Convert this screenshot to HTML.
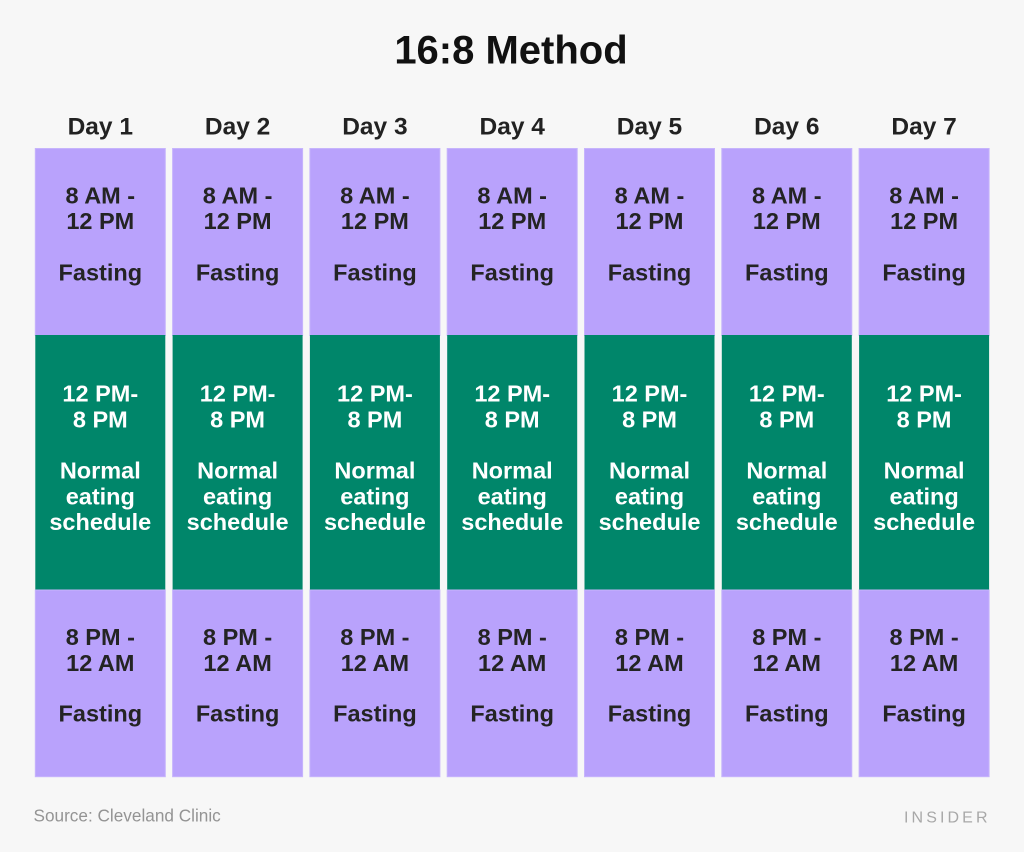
<!DOCTYPE html>
<html>
<head>
<meta charset="utf-8">
<style>
  html, body { margin: 0; padding: 0; background: #f7f7f7; }
  body { width: 1024px; height: 852px; overflow: hidden; }
  svg { display: block; }
  text { font-family: "Liberation Sans", Arial, sans-serif; }
  .title { font-size: 40px; font-weight: bold; fill: #111; }
  .day { font-size: 24.5px; font-weight: bold; fill: #222; }
  .dk { font-size: 23.5px; font-weight: bold; fill: #242424; }
  .wt { font-size: 23.5px; font-weight: bold; fill: #ffffff; }
  .src { font-size: 17.2px; fill: #949494; }
  .ins { font-size: 16px; fill: #a8a8a8; letter-spacing: 3.1px; }
</style>
</head>
<body>
<svg width="1024" height="852" viewBox="0 0 1024 852" xmlns="http://www.w3.org/2000/svg">
  <rect width="1024" height="852" fill="#f7f7f7"/>
  <text class="title" x="511" y="63.3" text-anchor="middle">16:8 Method</text>

  <g id="cols">
    <g transform="translate(35.3,0)">
      <text class="day" x="65" y="134.5" text-anchor="middle">Day 1</text>
      <rect x="0" y="148.5" width="130" height="187" fill="#b9a2fc" stroke="#c6b4fc" stroke-width="1"/>
      <rect x="0" y="335" width="130" height="255" fill="#00866a"/>
      <rect x="0" y="590" width="130" height="186.7" fill="#b9a2fc" stroke="#c6b4fc" stroke-width="1"/>
      <text class="dk" text-anchor="middle"><tspan x="65" y="203.3">8 AM -</tspan><tspan x="65" y="229.2">12 PM</tspan><tspan x="65" y="280.3">Fasting</tspan></text>
      <text class="wt" text-anchor="middle"><tspan x="65" y="401.7">12 PM-</tspan><tspan x="65" y="427.5">8 PM</tspan><tspan x="65" y="478.6">Normal</tspan><tspan x="65" y="504.3">eating</tspan><tspan x="65" y="530">schedule</tspan></text>
      <text class="dk" text-anchor="middle"><tspan x="65" y="645">8 PM -</tspan><tspan x="65" y="671">12 AM</tspan><tspan x="65" y="721.7">Fasting</tspan></text>
    </g>
    <g transform="translate(172.6,0)">
      <text class="day" x="65" y="134.5" text-anchor="middle">Day 2</text>
      <rect x="0" y="148.5" width="130" height="187" fill="#b9a2fc" stroke="#c6b4fc" stroke-width="1"/>
      <rect x="0" y="335" width="130" height="255" fill="#00866a"/>
      <rect x="0" y="590" width="130" height="186.7" fill="#b9a2fc" stroke="#c6b4fc" stroke-width="1"/>
      <text class="dk" text-anchor="middle"><tspan x="65" y="203.3">8 AM -</tspan><tspan x="65" y="229.2">12 PM</tspan><tspan x="65" y="280.3">Fasting</tspan></text>
      <text class="wt" text-anchor="middle"><tspan x="65" y="401.7">12 PM-</tspan><tspan x="65" y="427.5">8 PM</tspan><tspan x="65" y="478.6">Normal</tspan><tspan x="65" y="504.3">eating</tspan><tspan x="65" y="530">schedule</tspan></text>
      <text class="dk" text-anchor="middle"><tspan x="65" y="645">8 PM -</tspan><tspan x="65" y="671">12 AM</tspan><tspan x="65" y="721.7">Fasting</tspan></text>
    </g>
    <g transform="translate(309.9,0)">
      <text class="day" x="65" y="134.5" text-anchor="middle">Day 3</text>
      <rect x="0" y="148.5" width="130" height="187" fill="#b9a2fc" stroke="#c6b4fc" stroke-width="1"/>
      <rect x="0" y="335" width="130" height="255" fill="#00866a"/>
      <rect x="0" y="590" width="130" height="186.7" fill="#b9a2fc" stroke="#c6b4fc" stroke-width="1"/>
      <text class="dk" text-anchor="middle"><tspan x="65" y="203.3">8 AM -</tspan><tspan x="65" y="229.2">12 PM</tspan><tspan x="65" y="280.3">Fasting</tspan></text>
      <text class="wt" text-anchor="middle"><tspan x="65" y="401.7">12 PM-</tspan><tspan x="65" y="427.5">8 PM</tspan><tspan x="65" y="478.6">Normal</tspan><tspan x="65" y="504.3">eating</tspan><tspan x="65" y="530">schedule</tspan></text>
      <text class="dk" text-anchor="middle"><tspan x="65" y="645">8 PM -</tspan><tspan x="65" y="671">12 AM</tspan><tspan x="65" y="721.7">Fasting</tspan></text>
    </g>
    <g transform="translate(447.2,0)">
      <text class="day" x="65" y="134.5" text-anchor="middle">Day 4</text>
      <rect x="0" y="148.5" width="130" height="187" fill="#b9a2fc" stroke="#c6b4fc" stroke-width="1"/>
      <rect x="0" y="335" width="130" height="255" fill="#00866a"/>
      <rect x="0" y="590" width="130" height="186.7" fill="#b9a2fc" stroke="#c6b4fc" stroke-width="1"/>
      <text class="dk" text-anchor="middle"><tspan x="65" y="203.3">8 AM -</tspan><tspan x="65" y="229.2">12 PM</tspan><tspan x="65" y="280.3">Fasting</tspan></text>
      <text class="wt" text-anchor="middle"><tspan x="65" y="401.7">12 PM-</tspan><tspan x="65" y="427.5">8 PM</tspan><tspan x="65" y="478.6">Normal</tspan><tspan x="65" y="504.3">eating</tspan><tspan x="65" y="530">schedule</tspan></text>
      <text class="dk" text-anchor="middle"><tspan x="65" y="645">8 PM -</tspan><tspan x="65" y="671">12 AM</tspan><tspan x="65" y="721.7">Fasting</tspan></text>
    </g>
    <g transform="translate(584.5,0)">
      <text class="day" x="65" y="134.5" text-anchor="middle">Day 5</text>
      <rect x="0" y="148.5" width="130" height="187" fill="#b9a2fc" stroke="#c6b4fc" stroke-width="1"/>
      <rect x="0" y="335" width="130" height="255" fill="#00866a"/>
      <rect x="0" y="590" width="130" height="186.7" fill="#b9a2fc" stroke="#c6b4fc" stroke-width="1"/>
      <text class="dk" text-anchor="middle"><tspan x="65" y="203.3">8 AM -</tspan><tspan x="65" y="229.2">12 PM</tspan><tspan x="65" y="280.3">Fasting</tspan></text>
      <text class="wt" text-anchor="middle"><tspan x="65" y="401.7">12 PM-</tspan><tspan x="65" y="427.5">8 PM</tspan><tspan x="65" y="478.6">Normal</tspan><tspan x="65" y="504.3">eating</tspan><tspan x="65" y="530">schedule</tspan></text>
      <text class="dk" text-anchor="middle"><tspan x="65" y="645">8 PM -</tspan><tspan x="65" y="671">12 AM</tspan><tspan x="65" y="721.7">Fasting</tspan></text>
    </g>
    <g transform="translate(721.8,0)">
      <text class="day" x="65" y="134.5" text-anchor="middle">Day 6</text>
      <rect x="0" y="148.5" width="130" height="187" fill="#b9a2fc" stroke="#c6b4fc" stroke-width="1"/>
      <rect x="0" y="335" width="130" height="255" fill="#00866a"/>
      <rect x="0" y="590" width="130" height="186.7" fill="#b9a2fc" stroke="#c6b4fc" stroke-width="1"/>
      <text class="dk" text-anchor="middle"><tspan x="65" y="203.3">8 AM -</tspan><tspan x="65" y="229.2">12 PM</tspan><tspan x="65" y="280.3">Fasting</tspan></text>
      <text class="wt" text-anchor="middle"><tspan x="65" y="401.7">12 PM-</tspan><tspan x="65" y="427.5">8 PM</tspan><tspan x="65" y="478.6">Normal</tspan><tspan x="65" y="504.3">eating</tspan><tspan x="65" y="530">schedule</tspan></text>
      <text class="dk" text-anchor="middle"><tspan x="65" y="645">8 PM -</tspan><tspan x="65" y="671">12 AM</tspan><tspan x="65" y="721.7">Fasting</tspan></text>
    </g>
    <g transform="translate(859.1,0)">
      <text class="day" x="65" y="134.5" text-anchor="middle">Day 7</text>
      <rect x="0" y="148.5" width="130" height="187" fill="#b9a2fc" stroke="#c6b4fc" stroke-width="1"/>
      <rect x="0" y="335" width="130" height="255" fill="#00866a"/>
      <rect x="0" y="590" width="130" height="186.7" fill="#b9a2fc" stroke="#c6b4fc" stroke-width="1"/>
      <text class="dk" text-anchor="middle"><tspan x="65" y="203.3">8 AM -</tspan><tspan x="65" y="229.2">12 PM</tspan><tspan x="65" y="280.3">Fasting</tspan></text>
      <text class="wt" text-anchor="middle"><tspan x="65" y="401.7">12 PM-</tspan><tspan x="65" y="427.5">8 PM</tspan><tspan x="65" y="478.6">Normal</tspan><tspan x="65" y="504.3">eating</tspan><tspan x="65" y="530">schedule</tspan></text>
      <text class="dk" text-anchor="middle"><tspan x="65" y="645">8 PM -</tspan><tspan x="65" y="671">12 AM</tspan><tspan x="65" y="721.7">Fasting</tspan></text>
    </g>
  </g>

  <text class="src" x="33.5" y="821.7">Source: Cleveland Clinic</text>
  <text class="ins" x="904" y="822.3">INSIDER</text>
</svg>
</body>
</html>
